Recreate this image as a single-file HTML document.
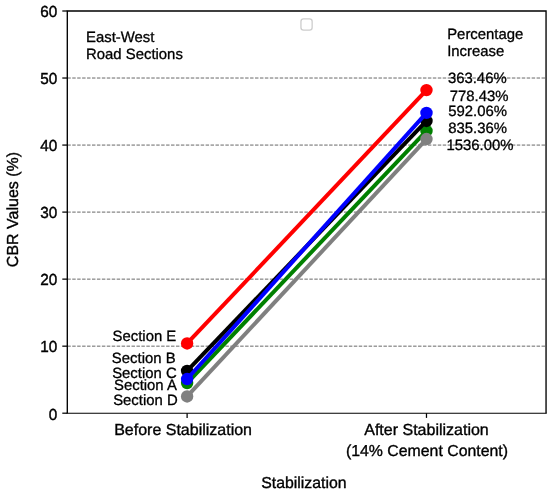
<!DOCTYPE html>
<html lang="en"><head><meta charset="utf-8"><title>CBR Values</title>
<style>html,body{margin:0;padding:0;background:#fff}svg{display:block}text{font-family:"Liberation Sans",sans-serif;fill:#000;text-rendering:geometricPrecision;stroke:#000;stroke-width:0.35px}text.t{stroke-width:0.42px}text.a{stroke-width:0.3px}</style>
</head><body>
<svg width="551" height="496" viewBox="0 0 551 496">
<rect width="551" height="496" fill="#fff"/>
<line x1="67.3" x2="546.05" y1="346.17" y2="346.17" stroke="#606060" stroke-width="0.95" stroke-dasharray="3.45 1.49"/>
<line x1="67.3" x2="546.05" y1="279.13" y2="279.13" stroke="#606060" stroke-width="0.95" stroke-dasharray="3.45 1.49"/>
<line x1="67.3" x2="546.05" y1="212.10" y2="212.10" stroke="#606060" stroke-width="0.95" stroke-dasharray="3.45 1.49"/>
<line x1="67.3" x2="546.05" y1="145.07" y2="145.07" stroke="#606060" stroke-width="0.95" stroke-dasharray="3.45 1.49"/>
<line x1="67.3" x2="546.05" y1="78.03" y2="78.03" stroke="#606060" stroke-width="0.95" stroke-dasharray="3.45 1.49"/>
<line x1="187.11" y1="383.03" x2="426.48" y2="130.99" stroke="#008000" stroke-width="4.0" stroke-linecap="butt"/>
<circle cx="187.11" cy="383.03" r="6.2" fill="#008000"/>
<circle cx="426.48" cy="130.99" r="6.2" fill="#008000"/>
<line x1="187.11" y1="370.97" x2="426.48" y2="120.93" stroke="#000000" stroke-width="4.0" stroke-linecap="butt"/>
<circle cx="187.11" cy="370.97" r="6.2" fill="#000000"/>
<circle cx="426.48" cy="120.93" r="6.2" fill="#000000"/>
<line x1="187.11" y1="379.01" x2="426.48" y2="112.89" stroke="#0000ff" stroke-width="4.0" stroke-linecap="butt"/>
<circle cx="187.11" cy="379.01" r="6.2" fill="#0000ff"/>
<circle cx="426.48" cy="112.89" r="6.2" fill="#0000ff"/>
<line x1="187.11" y1="396.44" x2="426.48" y2="139.03" stroke="#808080" stroke-width="4.0" stroke-linecap="butt"/>
<circle cx="187.11" cy="396.44" r="6.2" fill="#808080"/>
<circle cx="426.48" cy="139.03" r="6.2" fill="#808080"/>
<line x1="187.11" y1="343.49" x2="426.48" y2="90.10" stroke="#ff0000" stroke-width="4.0" stroke-linecap="butt"/>
<circle cx="187.11" cy="343.49" r="6.2" fill="#ff0000"/>
<circle cx="426.48" cy="90.10" r="6.2" fill="#ff0000"/>
<path d="M67.3 413.2V11.0H546.05V413.2" fill="none" stroke="#000" stroke-width="1.35" stroke-linejoin="miter"/>
<line x1="66.63" x2="546.72" y1="413.3" y2="413.3" stroke="#000" stroke-width="1.1"/>
<line x1="62.30" x2="67.3" y1="413.20" y2="413.20" stroke="#000" stroke-width="1.25"/>
<text transform="translate(57.30 419.60) scale(0.955 1)" class="t" font-size="16" text-anchor="end">0</text>
<line x1="62.30" x2="67.3" y1="346.17" y2="346.17" stroke="#000" stroke-width="1.25"/>
<text transform="translate(57.30 352.07) scale(0.955 1)" class="t" font-size="16" text-anchor="end">10</text>
<line x1="62.30" x2="67.3" y1="279.13" y2="279.13" stroke="#000" stroke-width="1.25"/>
<text transform="translate(57.30 285.03) scale(0.955 1)" class="t" font-size="16" text-anchor="end">20</text>
<line x1="62.30" x2="67.3" y1="212.10" y2="212.10" stroke="#000" stroke-width="1.25"/>
<text transform="translate(57.30 218.00) scale(0.955 1)" class="t" font-size="16" text-anchor="end">30</text>
<line x1="62.30" x2="67.3" y1="145.07" y2="145.07" stroke="#000" stroke-width="1.25"/>
<text transform="translate(57.30 150.97) scale(0.955 1)" class="t" font-size="16" text-anchor="end">40</text>
<line x1="62.30" x2="67.3" y1="78.03" y2="78.03" stroke="#000" stroke-width="1.25"/>
<text transform="translate(57.30 83.83) scale(0.955 1)" class="t" font-size="16" text-anchor="end">50</text>
<line x1="62.30" x2="67.3" y1="11.00" y2="11.00" stroke="#000" stroke-width="1.25"/>
<text transform="translate(57.30 16.50) scale(0.955 1)" class="t" font-size="16" text-anchor="end">60</text>
<line x1="187.11" x2="187.11" y1="413.2" y2="417.9" stroke="#000" stroke-width="1.25"/>
<line x1="426.48" x2="426.48" y1="413.2" y2="417.9" stroke="#000" stroke-width="1.25"/>
<rect x="300.95" y="18.85" width="11.2" height="11.2" rx="2.6" ry="2.6" fill="#fff" stroke="#cdcdcd" stroke-width="1.3"/>
<text x="86.0" y="41.9" class="a" font-size="14.9">East-West</text>
<text x="86.0" y="58.5" class="a" font-size="14.9">Road Sections</text>
<text x="447.2" y="39.2" class="a" font-size="14.9">Percentage</text>
<text x="447.2" y="55.8" class="a" font-size="14.9">Increase</text>
<text x="447.9" y="83.05" class="a" font-size="14.9">363.46%</text>
<text x="449.7" y="100.5" class="a" font-size="14.9">778.43%</text>
<text x="448.2" y="116.3" class="a" font-size="14.9">592.06%</text>
<text x="448.2" y="133.0" class="a" font-size="14.9">835.36%</text>
<text x="446.4" y="149.7" class="a" font-size="14.9">1536.00%</text>
<text x="176.3" y="341.0" class="a" font-size="14.9" text-anchor="end">Section E</text>
<text x="175.6" y="363.1" class="a" font-size="14.9" text-anchor="end">Section B</text>
<text x="176.7" y="378.1" class="a" font-size="14.9" text-anchor="end">Section C</text>
<text x="176.9" y="389.7" class="a" font-size="14.9" text-anchor="end">Section A</text>
<text x="177.7" y="405.3" class="a" font-size="14.9" text-anchor="end">Section D</text>
<text x="183.1" y="435.2" font-size="16" text-anchor="middle">Before Stabilization</text>
<text x="426.5" y="435.0" font-size="16" text-anchor="middle">After Stabilization</text>
<text x="427.0" y="455.6" font-size="15.85" text-anchor="middle">(14% Cement Content)</text>
<text x="303.9" y="488.3" font-size="15.85" text-anchor="middle">Stabilization</text>
<text transform="translate(17.6 209.5) rotate(-90)" font-size="16" text-anchor="middle">CBR Values (%)</text>
</svg>
</body></html>
